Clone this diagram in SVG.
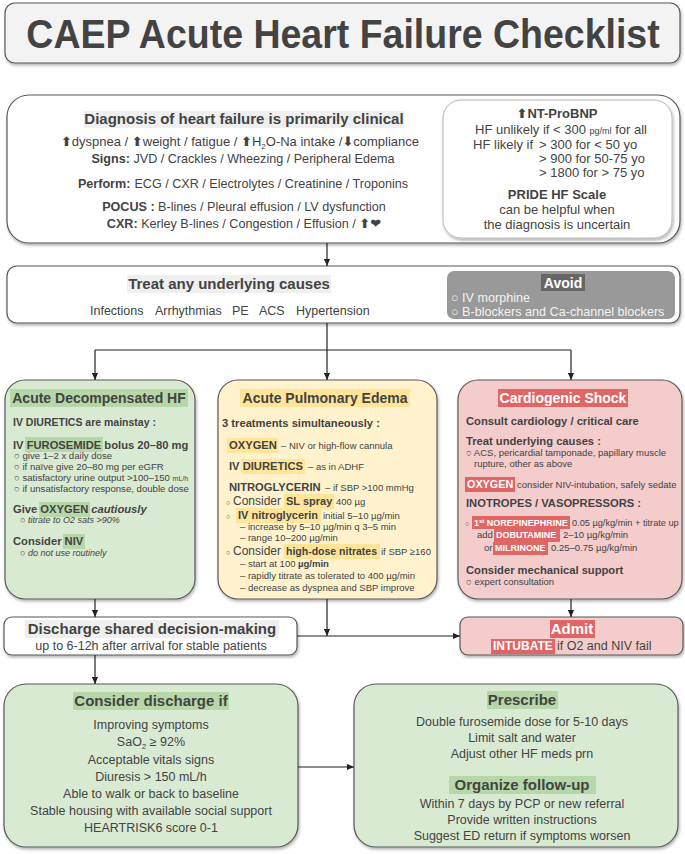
<svg xmlns="http://www.w3.org/2000/svg" width="685" height="854" viewBox="0 0 685 854">
<defs>
<style>
.t{font-family:'Liberation Sans',Arial,sans-serif;fill:#434343}
.b{font-weight:bold}
.c{text-anchor:middle}
.i{font-style:italic}
.wt{fill:#ffffff}
.sym{font-family:'DejaVu Sans',sans-serif;font-weight:bold;font-size:13px}
.box{stroke:#595959;stroke-width:1.2}
.con{stroke:#222;stroke-width:1.2;fill:none}
.hg{fill:#b6d7a8}
.hy{fill:#ffe599}
.hr{fill:#e06666}
.hl{fill:#efefef}
</style>
<filter id="sh" x="-5%" y="-5%" width="110%" height="115%">
<feDropShadow dx="1" dy="2" stdDeviation="1.5" flood-color="#000" flood-opacity="0.3"/>
</filter>
<marker id="ah" viewBox="0 0 8 8" refX="8" refY="4" markerWidth="7" markerHeight="7" orient="auto" markerUnits="userSpaceOnUse">
<path d="M0,0.5 L8,4 L0,7.5 Z" fill="#222"/>
</marker>
</defs>
<rect width="685" height="854" fill="#ffffff"/>

<g id="title">
<rect x="5" y="3" width="675" height="60" rx="10" fill="#f3f3f3" class="box" filter="url(#sh)"/>
<text class="t b c" font-size="37.5" transform="translate(343,47.5) scale(1,1.1)">CAEP Acute Heart Failure Checklist</text>
</g>

<g id="diagnosis">
<rect x="7" y="95" width="673" height="148" rx="22" fill="#ffffff" class="box" filter="url(#sh)"/>
<rect x="84" y="111" width="320" height="17" class="hl"/>
<text x="244" y="124" class="t b c" font-size="15">Diagnosis of heart failure is primarily clinical</text>
<text x="240" y="146" class="t c" font-size="13"><tspan class="sym">⬆</tspan>dyspnea / <tspan class="sym">⬆</tspan>weight / fatigue / <tspan class="sym">⬆</tspan>H<tspan font-size="8" dy="3">2</tspan><tspan dy="-3">O-Na intake /</tspan><tspan class="sym">⬇</tspan>compliance</text>
<text x="243" y="163" class="t c" font-size="12.6"><tspan class="b">Signs:</tspan> JVD / Crackles / Wheezing / Peripheral Edema</text>
<text x="243" y="188" class="t c" font-size="12.6"><tspan class="b">Perform:</tspan><tspan dx="4">ECG / CXR / Electrolytes / Creatinine / Troponins</tspan></text>
<text x="244" y="211" class="t c" font-size="12.6"><tspan class="b">POCUS :</tspan> B-lines / Pleural effusion / LV dysfunction</text>
<text x="244" y="228" class="t c" font-size="12.6"><tspan class="b">CXR:</tspan> Kerley B-lines / Congestion / Effusion / <tspan class="sym">⬆❤</tspan></text>
</g>

<g id="ntprobnp">
<rect x="443" y="100" width="229" height="138" rx="18" fill="#ffffff" stroke="#b7b7b7" stroke-width="1" filter="url(#sh)"/>
<text x="557" y="118" class="t b c" font-size="13"><tspan class="sym">⬆</tspan>NT-ProBNP</text>
<text x="561" y="134" class="t c" font-size="13">HF unlikely if &lt; 300 <tspan font-size="9">pg/ml</tspan> for all</text>
<text x="533" y="149" class="t" font-size="13" text-anchor="end">HF likely if</text>
<text x="539" y="149" class="t" font-size="13">&gt; 300 for &lt; 50 yo</text>
<text x="539" y="163" class="t" font-size="13">&gt; 900 for 50-75 yo</text>
<text x="539" y="177" class="t" font-size="13">&gt; 1800 for &gt; 75 yo</text>
<text x="557" y="199" class="t b c" font-size="13">PRIDE HF Scale</text>
<text x="557" y="214" class="t c" font-size="13">can be helpful when</text>
<text x="557" y="229" class="t c" font-size="13">the diagnosis is uncertain</text>
</g>

<g id="treat">
<rect x="7" y="266" width="673" height="57" rx="10" fill="#ffffff" class="box" filter="url(#sh)"/>
<rect x="127" y="275" width="204" height="18" class="hl"/>
<text x="229" y="289" class="t b c" font-size="15">Treat any underlying causes</text>
<text x="90" y="315" class="t" font-size="12.5">Infections</text>
<text x="155" y="315" class="t" font-size="12.5">Arrhythmias</text>
<text x="232" y="315" class="t" font-size="12.5">PE</text>
<text x="259" y="315" class="t" font-size="12.5">ACS</text>
<text x="296" y="315" class="t" font-size="12.5">Hypertension</text>
</g>

<g id="avoid">
<rect x="447" y="271" width="228" height="48" rx="7" fill="#999999"/>
<rect x="541" y="274" width="44" height="17" fill="#666666"/>
<text x="563" y="288" class="t b c wt" font-size="14">Avoid</text>
<text x="451" y="302" class="t" font-size="12.6" style="fill:#f3f3f3">○ IV morphine</text>
<text x="451" y="316" class="t" font-size="12.6" style="fill:#f3f3f3">○ B-blockers and Ca-channel blockers</text>
</g>

<g id="adhf">
<rect x="5" y="380" width="190" height="219" rx="20" fill="#d9ead3" class="box" filter="url(#sh)"/>
<rect x="10" y="389" width="178" height="18" class="hg"/>
<text x="99" y="403" class="t b c" font-size="14">Acute Decompensated HF</text>
<text x="13" y="426" class="t b" font-size="10.5">IV DIURETICS are mainstay :</text>
<rect x="25" y="437" width="78" height="15" class="hg"/>
<text x="13" y="449" class="t b" font-size="11.2">IV FUROSEMIDE bolus 20–80 mg</text>
<text x="14" y="459" class="t" font-size="9.6">○ give 1–2 x daily dose</text>
<text x="14" y="470" class="t" font-size="9.6">○ if naïve give 20–80 mg per eGFR</text>
<text x="14" y="481" class="t" font-size="9.6">○ satisfactory urine output &gt;100–150 <tspan font-size="7">mL/h</tspan></text>
<text x="14" y="492" class="t" font-size="9.6">○ if unsatisfactory response, double dose</text>
<rect x="39" y="502" width="51" height="15" class="hg"/>
<text x="13" y="513" class="t b" font-size="11.2">Give OXYGEN <tspan class="i">cautiously</tspan></text>
<text x="20" y="523" class="t i" font-size="9">○ titrate to O2 sats &gt;90%</text>
<rect x="63" y="534" width="22" height="15" class="hg"/>
<text x="13" y="545" class="t b" font-size="11.2">Consider NIV</text>
<text x="20" y="556" class="t i" font-size="9">○ do not use routinely</text>
</g>

<g id="ape">
<rect x="218" y="380" width="219" height="219" rx="20" fill="#fff2cc" class="box" filter="url(#sh)"/>
<rect x="240" y="389" width="170" height="18" class="hy"/>
<text x="325" y="403" class="t b c" font-size="14">Acute Pulmonary Edema</text>
<text x="222" y="427" class="t b" font-size="11.2">3 treatments simultaneously :</text>
<rect x="227" y="438" width="51" height="15" class="hy"/>
<text x="229" y="449" class="t b" font-size="11.2">OXYGEN</text>
<text x="281" y="449" class="t" font-size="9.5">– NIV or high-flow cannula</text>
<rect x="241" y="459" width="64" height="15" class="hy"/>
<text x="229" y="470" class="t b" font-size="11.2">IV DIURETICS</text>
<text x="308" y="470" class="t" font-size="9.5">– as in ADHF</text>
<text x="229" y="491" class="t b" font-size="11.2">NITROGLYCERIN</text>
<text x="325" y="491" class="t" font-size="9.5">– if SBP &gt;100 mmHg</text>
<text x="226" y="505" class="t" font-size="7">○</text>
<text x="233" y="505" class="t" font-size="12">Consider</text>
<rect x="284" y="494" width="50" height="15" class="hy"/>
<text x="286" y="505" class="t b" font-size="11">SL spray</text>
<text x="336" y="505" class="t" font-size="9.5">400 µg</text>
<text x="226" y="519" class="t" font-size="7">○</text>
<rect x="236" y="508" width="85" height="15" class="hy"/>
<text x="238" y="519" class="t b" font-size="11">IV nitroglycerin</text>
<text x="323" y="519" class="t" font-size="9.5">initial 5–10 µg/min</text>
<text x="240" y="530" class="t" font-size="9.5">– increase by 5–10 µg/min q 3–5 min</text>
<text x="240" y="541" class="t" font-size="9.5">– range 10–200 µg/min</text>
<text x="226" y="555" class="t" font-size="7">○</text>
<text x="233" y="555" class="t" font-size="12">Consider</text>
<rect x="284" y="544" width="96" height="15" class="hy"/>
<text x="286" y="555" class="t b" font-size="10.5">high-dose nitrates</text>
<text x="381" y="555" class="t" font-size="9.5">if SBP ≥160</text>
<text x="240" y="567" class="t" font-size="9.5">– start at 100 <tspan class="b">µg/min</tspan></text>
<text x="240" y="579" class="t" font-size="9.5">– rapidly titrate as tolerated to 400 µg/min</text>
<text x="240" y="591" class="t" font-size="9.5">– decrease as dyspnea and SBP improve</text>
</g>

<g id="shock">
<rect x="458" y="380" width="224" height="219" rx="20" fill="#f4cccc" class="box" filter="url(#sh)"/>
<rect x="498" y="389" width="130" height="18" class="hr"/>
<text x="563" y="403" class="t b c wt" font-size="14">Cardiogenic Shock</text>
<text x="466" y="425" class="t b" font-size="11.2">Consult cardiology / critical care</text>
<text x="466" y="445" class="t b" font-size="11.2">Treat underlying causes :</text>
<text x="466" y="456" class="t" font-size="9.5">○ ACS, pericardial tamponade, papillary muscle</text>
<text x="474" y="467" class="t" font-size="9.5">rupture, other as above</text>
<rect x="465" y="477" width="50" height="15" class="hr"/>
<text x="467" y="488" class="t b wt" font-size="10.8">OXYGEN</text>
<text x="517" y="488" class="t" font-size="9.5">consider NIV-intubation, safely sedate</text>
<text x="466" y="507" class="t b" font-size="11.2">INOTROPES / VASOPRESSORS :</text>
<text x="465" y="526" class="t" font-size="7">○</text>
<rect x="472" y="516" width="98" height="13" class="hr"/>
<text x="474" y="526" class="t b wt" font-size="9">1<tspan font-size="6" dy="-3">st</tspan><tspan dy="3"> NOREPINEPHRINE</tspan></text>
<text x="572" y="526" class="t" font-size="9.2">0.05 µg/kg/min + titrate up</text>
<text x="477" y="538" class="t" font-size="9.5">add</text>
<rect x="494" y="529" width="66" height="13" class="hr"/>
<text x="496" y="538" class="t b wt" font-size="9">DOBUTAMINE</text>
<text x="563" y="538" class="t" font-size="9.5">2–10 µg/kg/min</text>
<text x="484" y="551" class="t" font-size="9.5">or</text>
<rect x="493" y="542" width="55" height="13" class="hr"/>
<text x="495" y="551" class="t b wt" font-size="9">MILRINONE</text>
<text x="551" y="551" class="t" font-size="9.5">0.25–0.75 µg/kg/min</text>
<text x="466" y="574" class="t b" font-size="11.2">Consider mechanical support</text>
<text x="466" y="585" class="t" font-size="9.5">○ expert consultation</text>
</g>

<g id="discharge-decision">
<rect x="4" y="617" width="293" height="38" rx="8" fill="#ffffff" class="box" filter="url(#sh)"/>
<rect x="25" y="620" width="254" height="18" class="hl"/>
<text x="152" y="634" class="t b c" font-size="15">Discharge shared decision-making</text>
<text x="151" y="650" class="t c" font-size="12.5">up to 6-12h after arrival for stable patients</text>
</g>

<g id="admit">
<rect x="460" y="617" width="223" height="38" rx="8" fill="#f4cccc" class="box" filter="url(#sh)"/>
<rect x="550" y="620" width="45" height="18" class="hr"/>
<text x="572" y="634" class="t b c wt" font-size="15">Admit</text>
<rect x="491" y="639" width="64" height="15" class="hr"/>
<text x="493" y="650" class="t b wt" font-size="12">INTUBATE</text>
<text x="557" y="650" class="t" font-size="12.5">if O2 and NIV fail</text>
</g>

<g id="consider-discharge">
<rect x="4" y="684" width="294" height="163" rx="22" fill="#d9ead3" class="box" filter="url(#sh)"/>
<rect x="73" y="692" width="156" height="18" class="hg"/>
<text x="151" y="706" class="t b c" font-size="15">Consider discharge if</text>
<text x="151" y="729" class="t c" font-size="12.5">Improving symptoms</text>
<text x="151" y="746" class="t c" font-size="12.5">SaO<tspan font-size="8" dy="3">2</tspan><tspan dy="-3"> ≥ 92%</tspan></text>
<text x="151" y="764" class="t c" font-size="12.5">Acceptable vitals signs</text>
<text x="151" y="781" class="t c" font-size="12.5">Diuresis &gt; 150 mL/h</text>
<text x="151" y="798" class="t c" font-size="12.5">Able to walk or back to baseline</text>
<text x="151" y="815" class="t c" font-size="12.5">Stable housing with available social support</text>
<text x="151" y="832" class="t c" font-size="12.5">HEARTRISK6 score 0-1</text>
</g>

<g id="prescribe">
<rect x="354" y="684" width="324" height="163" rx="22" fill="#d9ead3" class="box" filter="url(#sh)"/>
<rect x="487" y="691" width="71" height="18" class="hg"/>
<text x="522" y="705" class="t b c" font-size="15">Prescribe</text>
<text x="522" y="726" class="t c" font-size="12.5">Double furosemide dose for 5-10 days</text>
<text x="522" y="742" class="t c" font-size="12.5">Limit salt and water</text>
<text x="522" y="758" class="t c" font-size="12.5">Adjust other HF meds prn</text>
<rect x="449" y="776" width="147" height="18" class="hg"/>
<text x="522" y="790" class="t b c" font-size="15">Organize follow-up</text>
<text x="522" y="808" class="t c" font-size="12.5">Within 7 days by PCP or new referral</text>
<text x="522" y="824" class="t c" font-size="12.5">Provide written instructions</text>
<text x="522" y="840" class="t c" font-size="12.5">Suggest ED return if symptoms worsen</text>
</g>

<g id="connectors">
<line x1="327" y1="243" x2="327" y2="266" class="con" marker-end="url(#ah)"/>
<line x1="327" y1="323" x2="327" y2="350" class="con"/>
<line x1="95" y1="350" x2="571" y2="350" class="con"/>
<line x1="95" y1="350" x2="95" y2="380" class="con" marker-end="url(#ah)"/>
<line x1="327" y1="350" x2="327" y2="380" class="con" marker-end="url(#ah)"/>
<line x1="571" y1="350" x2="571" y2="380" class="con" marker-end="url(#ah)"/>
<line x1="95" y1="599" x2="95" y2="617" class="con" marker-end="url(#ah)"/>
<line x1="327" y1="599" x2="327" y2="636" class="con" marker-end="url(#ah)"/>
<line x1="297" y1="636" x2="460" y2="636" class="con" marker-end="url(#ah)"/>
<line x1="571" y1="599" x2="571" y2="617" class="con" marker-end="url(#ah)"/>
<line x1="95" y1="655" x2="95" y2="684" class="con" marker-end="url(#ah)"/>
<line x1="298" y1="767" x2="354" y2="767" class="con" marker-end="url(#ah)"/>
</g>
</svg>
